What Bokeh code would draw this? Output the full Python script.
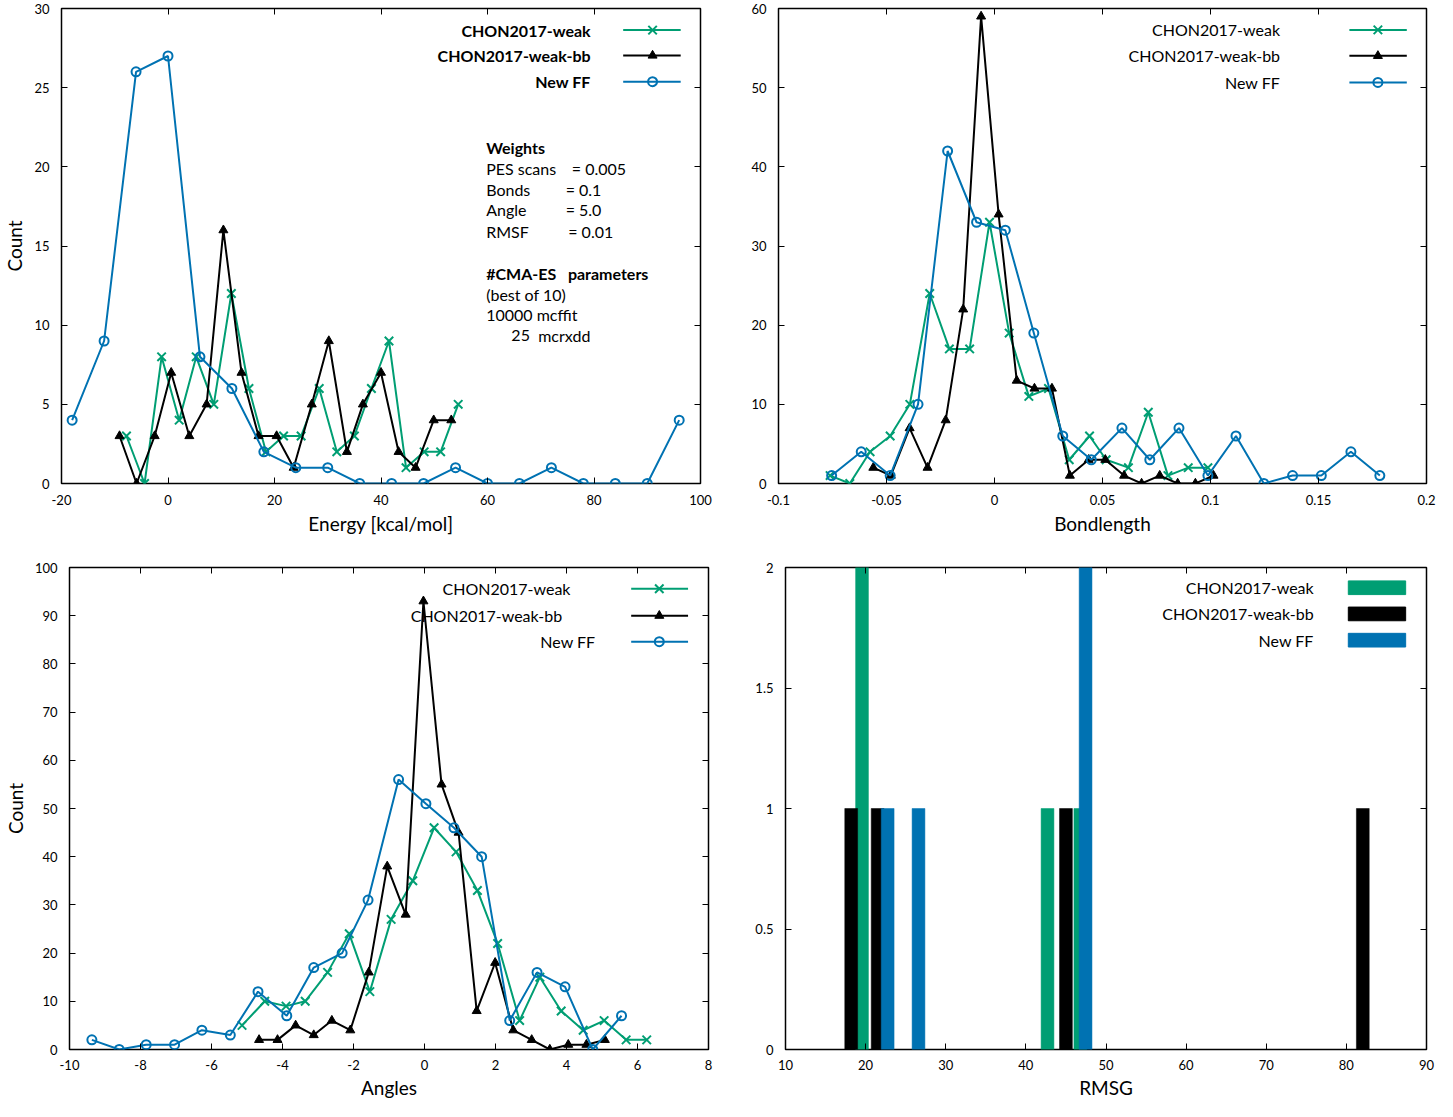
from bokeh.plotting import figure
from bokeh.models import Range1d, LinearAxis, FixedTicker
from bokeh.layouts import column, row
from bokeh.embed import file_html
from bokeh.resources import INLINE
from bokeh.core.properties import value

GREEN = "#009e73"
BLACK = "#000000"
BLUE = "#0072b2"
FONT = "Lato"

series_names = ["CHON2017-weak", "CHON2017-weak-bb", "New FF"]

# ---------------- Energy panel ----------------
energy_weak_x = [-7.8, -4.4, -1.2, 2.1, 5.3, 8.6, 11.9, 15.2, 18.4, 21.7, 25.0, 28.4, 31.7, 35.0, 38.2, 41.5, 44.7, 48.1, 51.2, 54.5]
energy_weak_y = [3, 0, 8, 4, 8, 5, 12, 6, 2, 3, 3, 6, 2, 3, 6, 9, 1, 2, 2, 5]
energy_bb_x = [-9.1, -5.9, -2.5, 0.6, 4.0, 7.25, 10.4, 13.8, 17.0, 20.4, 23.6, 27.0, 30.2, 33.6, 36.6, 40.0, 43.3, 46.5, 49.9, 53.2]
energy_bb_y = [3, 0, 3, 7, 3, 5, 16, 7, 3, 3, 1, 5, 9, 2, 5, 7, 2, 1, 4, 4]
energy_new_x = [-18, -12, -6, 0, 6, 12, 18, 24, 30, 36, 42, 48, 54, 60, 66, 72, 78, 84, 90, 96]
energy_new_y = [4, 9, 26, 27, 8, 6, 2, 1, 1, 0, 0, 0, 1, 0, 0, 1, 0, 0, 0, 4]
energy_xticks = [-20, 0, 20, 40, 60, 80, 100]
energy_xlabels = ["-20", "0", "20", "40", "60", "80", "100"]
energy_yticks = [0, 5, 10, 15, 20, 25, 30]
energy_ylabels = ["0", "5", "10", "15", "20", "25", "30"]

# ---------------- Bondlength panel ----------------
bond_weak_x = [-0.0761, -0.067, -0.0576, -0.0483, -0.0392, -0.030, -0.0209, -0.0115, -0.0023, 0.0068, 0.0159, 0.025, 0.0346, 0.044, 0.0517, 0.062, 0.0712, 0.0803, 0.0897, 0.0988]
bond_weak_y = [1, 0, 4, 6, 10, 24, 17, 17, 33, 19, 11, 12, 3, 6, 3, 2, 9, 1, 2, 2]
bond_bb_x = [-0.0561, -0.048, -0.0393, -0.031, -0.0226, -0.0145, -0.0062, 0.0019, 0.0103, 0.0185, 0.0266, 0.0349, 0.0436, 0.0513, 0.060, 0.0681, 0.0765, 0.0848, 0.093, 0.1014]
bond_bb_y = [2, 1, 7, 2, 8, 22, 59, 34, 13, 12, 12, 1, 3, 3, 1, 0, 1, 0, 0, 1]
bond_new_x = [-0.0754, -0.0617, -0.0483, -0.0354, -0.0217, -0.0083, 0.005, 0.0182, 0.0316, 0.0448, 0.059, 0.0719, 0.0854, 0.0988, 0.1118, 0.1247, 0.138, 0.1513, 0.165, 0.1784]
bond_new_y = [1, 4, 1, 10, 42, 33, 32, 19, 6, 3, 7, 3, 7, 1, 6, 0, 1, 1, 4, 1]
bond_xticks = [-0.1, -0.05, 0.0, 0.05, 0.1, 0.15, 0.2]
bond_xlabels = ["-0.1", "-0.05", "0", "0.05", "0.1", "0.15", "0.2"]
bond_yticks = [0, 10, 20, 30, 40, 50, 60]
bond_ylabels = ["0", "10", "20", "30", "40", "50", "60"]

# ---------------- Angles panel ----------------
angle_weak_x = [-5.14, -4.5, -3.9, -3.36, -2.73, -2.12, -1.54, -0.94, -0.33, 0.27, 0.89, 1.49, 2.06, 2.68, 3.25, 3.85, 4.47, 5.06, 5.68, 6.26]
angle_weak_y = [5, 10, 9, 10, 16, 24, 12, 27, 35, 46, 41, 33, 22, 6, 15, 8, 4, 6, 2, 2]
angle_bb_x = [-4.66, -4.14, -3.63, -3.12, -2.61, -2.09, -1.57, -1.05, -0.53, -0.03, 0.48, 0.96, 1.47, 1.99, 2.5, 3.02, 3.53, 4.05, 4.56, 5.08]
angle_bb_y = [2, 2, 5, 3, 6, 4, 16, 38, 28, 93, 55, 45, 8, 18, 4, 2, 0, 1, 1, 2]
angle_new_x = [-9.37, -8.6, -7.84, -7.04, -6.27, -5.47, -4.69, -3.88, -3.12, -2.32, -1.59, -0.73, 0.04, 0.83, 1.61, 2.4, 3.17, 3.96, 4.74, 5.55]
angle_new_y = [2, 0, 1, 1, 4, 3, 12, 7, 17, 20, 31, 56, 51, 46, 40, 6, 16, 13, 0, 7]
angle_xticks = [-10, -8, -6, -4, -2, 0, 2, 4, 6, 8]
angle_xlabels = ["-10", "-8", "-6", "-4", "-2", "0", "2", "4", "6", "8"]
angle_yticks = [0, 10, 20, 30, 40, 50, 60, 70, 80, 90, 100]
angle_ylabels = ["0", "10", "20", "30", "40", "50", "60", "70", "80", "90", "100"]

# ---------------- RMSG panel (histogram bars) ----------------
rmsg_weak_x = [19.55, 42.7, 46.8]
rmsg_weak_y = [2, 1, 1]
rmsg_bb_x = [18.2, 21.5, 45.0, 82.05]
rmsg_bb_y = [1, 1, 1, 1]
rmsg_new_x = [22.75, 26.6, 47.45]
rmsg_new_y = [1, 1, 2]
rmsg_bar_width = 1.6
rmsg_xticks = [10, 20, 30, 40, 50, 60, 70, 80, 90]
rmsg_xlabels = ["10", "20", "30", "40", "50", "60", "70", "80", "90"]
rmsg_yticks = [0, 0.5, 1, 1.5, 2]
rmsg_ylabels = ["0", "0.5", "1", "1.5", "2"]


def style_axis(ax, ticks, labels, hidden=False, tick_standoff=12, label_standoff=5):
    ax.ticker = FixedTicker(ticks=ticks)
    ax.major_tick_in = 6
    ax.major_tick_out = 0
    ax.major_tick_line_color = "black"
    ax.major_tick_line_width = 1
    ax.minor_tick_line_color = None
    ax.axis_line_color = None
    if hidden:
        ax.major_label_text_font_size = "0px"
        ax.major_label_text_alpha = 0
        ax.major_label_standoff = 0
    else:
        ax.major_label_overrides = dict(zip(ticks, labels))
        ax.major_label_text_font = FONT
        ax.major_label_text_font_size = "13px"
        ax.major_label_text_color = "black"
        ax.major_label_standoff = tick_standoff
        ax.axis_label_text_font = FONT
        ax.axis_label_text_font_size = "19px"
        ax.axis_label_text_font_style = "normal"
        ax.axis_label_text_color = "black"
        ax.axis_label_standoff = label_standoff


def make_fig(w, h, xr, yr, bl, br, bt, bb, xt, xl, yt, yl, xlabel, ylabel, xstand):
    kw = dict(width=w, height=h, x_range=Range1d(*xr), y_range=Range1d(*yr),
              output_backend="svg", toolbar_location=None,
              min_border_left=bl, min_border_right=br, min_border_top=bt, min_border_bottom=bb,
              x_axis_label=xlabel)
    if ylabel:
        kw["y_axis_label"] = ylabel
    p = figure(**kw)
    p.grid.visible = False
    p.outline_line_color = "black"
    p.outline_line_width = 1.5
    p.background_fill_color = "white"
    p.border_fill_color = "white"
    style_axis(p.xaxis[0], xt, xl, tick_standoff=xstand[0], label_standoff=xstand[1])
    style_axis(p.yaxis[0], yt, yl, tick_standoff=12, label_standoff=5)
    top = LinearAxis()
    style_axis(top, xt, xl, hidden=True)
    p.add_layout(top, "above")
    right = LinearAxis()
    style_axis(right, yt, yl, hidden=True)
    p.add_layout(right, "right")
    return p


def fx(xr, f):
    return xr[0] + f * (xr[1] - xr[0])


def fy(yr, f_from_top):
    return yr[1] - f_from_top * (yr[1] - yr[0])


colors = [GREEN, BLACK, BLUE]
markers = ["x", "triangle", "circle"]


def add_marks(p, xs, ys, color, marker):
    if marker == "x":
        p.scatter(xs, ys, marker="x", size=12, line_color=color, line_width=2)
    elif marker == "triangle":
        p.scatter(xs, ys, marker="triangle", size=9, line_color=color, fill_color=color, line_width=1)
    else:
        p.scatter(xs, ys, marker="circle", size=9, line_color=color, fill_color=None, line_width=2)


def add_series(p, xs, ys, color, marker):
    p.line(xs, ys, line_color=color, line_width=2)
    add_marks(p, xs, ys, color, marker)


def add_legend(p, xr, yr, label_right, rows, s0, s1, sm, bold, boxes=False):
    for i, name in enumerate(series_names):
        yv = fy(yr, rows[i])
        p.text(x=[fx(xr, label_right[i])], y=[yv], text=[name], text_align="right",
               text_baseline="middle", text_font=value(FONT), text_font_size="16px",
               text_font_style="bold" if bold else "normal", text_color="black")
        if boxes:
            hh = 0.0142 * (yr[1] - yr[0])
            p.quad(left=[fx(xr, s0)], right=[fx(xr, s1)], bottom=[yv - hh], top=[yv + hh],
                   fill_color=colors[i], line_color=colors[i])
        else:
            p.line([fx(xr, s0), fx(xr, s1)], [yv, yv], line_color=colors[i], line_width=2)
            add_marks(p, [fx(xr, sm)], [yv], colors[i], markers[i])


W_LEFT, W_RIGHT = 742, 695
H_TOP, H_BOT = 537, 564

# ---------------- Panel 1: Energy ----------------
xr1, yr1 = (-20, 100), (0, 30)
p1 = make_fig(W_LEFT, H_TOP, xr1, yr1, 56, 42, 8, 52, energy_xticks, energy_xlabels,
              energy_yticks, energy_ylabels, "Energy [kcal/mol]", "Count", (11, 4))
for xs, ys, c, m in [(energy_weak_x, energy_weak_y, GREEN, "x"),
                     (energy_bb_x, energy_bb_y, BLACK, "triangle"),
                     (energy_new_x, energy_new_y, BLUE, "circle")]:
    add_series(p1, xs, ys, c, m)
add_legend(p1, xr1, yr1, [0.828, 0.828, 0.828], [0.0455, 0.099, 0.154], 0.879, 0.969, 0.925, True)

note_rows = [0.2934, 0.3368, 0.3808, 0.4242, 0.469, 0.5572, 0.6012, 0.6446, 0.6894]
note_items = [
    ("Weights", 0.6646, 0, True), ("PES scans", 0.6646, 1, False), ("= 0.005", 0.7986, 1, False),
    ("Bonds", 0.6646, 2, False), ("= 0.1", 0.789, 2, False),
    ("Angle", 0.6646, 3, False), ("= 5.0", 0.789, 3, False),
    ("RMSF", 0.6646, 4, False), ("= 0.01", 0.793, 4, False),
    ("#CMA-ES", 0.6646, 5, True), ("parameters", 0.7925, 5, True),
    ("(best of 10)", 0.6646, 6, False), ("10000 mcffit", 0.6646, 7, False),
    ("25", 0.704, 8, False), ("mcrxdd", 0.746, 8, False),
]
for txt, fxx, r, b in note_items:
    p1.text(x=[fx(xr1, fxx)], y=[fy(yr1, note_rows[r])], text=[txt], text_align="left",
            text_baseline="middle", text_font=value(FONT), text_font_size="16px",
            text_font_style="bold" if b else "normal", text_color="black")

# ---------------- Panel 2: Bondlength ----------------
xr2, yr2 = (-0.1, 0.2), (0, 60)
p2 = make_fig(W_RIGHT, H_TOP, xr2, yr2, 36, 11, 5, 52, bond_xticks, bond_xlabels,
              bond_yticks, bond_ylabels, "Bondlength", None, (11, 4))
for xs, ys, c, m in [(bond_weak_x, bond_weak_y, GREEN, "x"),
                     (bond_bb_x, bond_bb_y, BLACK, "triangle"),
                     (bond_new_x, bond_new_y, BLUE, "circle")]:
    add_series(p2, xs, ys, c, m)
add_legend(p2, xr2, yr2, [0.774, 0.774, 0.774], [0.045, 0.0997, 0.1556], 0.881, 0.9696, 0.925, False)

# ---------------- Panel 3: Angles ----------------
xr3, yr3 = (-10, 8), (0, 100)
p3 = make_fig(W_LEFT, H_BOT, xr3, yr3, 62, 34, 30, 50, angle_xticks, angle_xlabels,
              angle_yticks, angle_ylabels, "Angles", "Count", (10, 3))
for xs, ys, c, m in [(angle_weak_x, angle_weak_y, GREEN, "x"),
                     (angle_bb_x, angle_bb_y, BLACK, "triangle"),
                     (angle_new_x, angle_new_y, BLUE, "circle")]:
    add_series(p3, xs, ys, c, m)
add_legend(p3, xr3, yr3, [0.784, 0.771, 0.823], [0.044, 0.100, 0.154], 0.879, 0.968, 0.923, False)

# ---------------- Panel 4: RMSG ----------------
xr4, yr4 = (10, 90), (0, 2)
p4 = make_fig(W_RIGHT, H_BOT, xr4, yr4, 43, 11, 30, 50, rmsg_xticks, rmsg_xlabels,
              rmsg_yticks, rmsg_ylabels, "RMSG", None, (10, 3))
for xs, ys, c in [(rmsg_weak_x, rmsg_weak_y, GREEN),
                  (rmsg_bb_x, rmsg_bb_y, BLACK),
                  (rmsg_new_x, rmsg_new_y, BLUE)]:
    p4.vbar(x=xs, top=ys, bottom=0, width=rmsg_bar_width, fill_color=c, line_color=c, line_width=0.5)
add_legend(p4, xr4, yr4, [0.824, 0.824, 0.824], [0.042, 0.0963, 0.1508], 0.878, 0.9675, 0.92, False, boxes=True)

layout = column(row(p1, p2), row(p3, p4))
open("out.html", "w").write(file_html(layout, INLINE))
